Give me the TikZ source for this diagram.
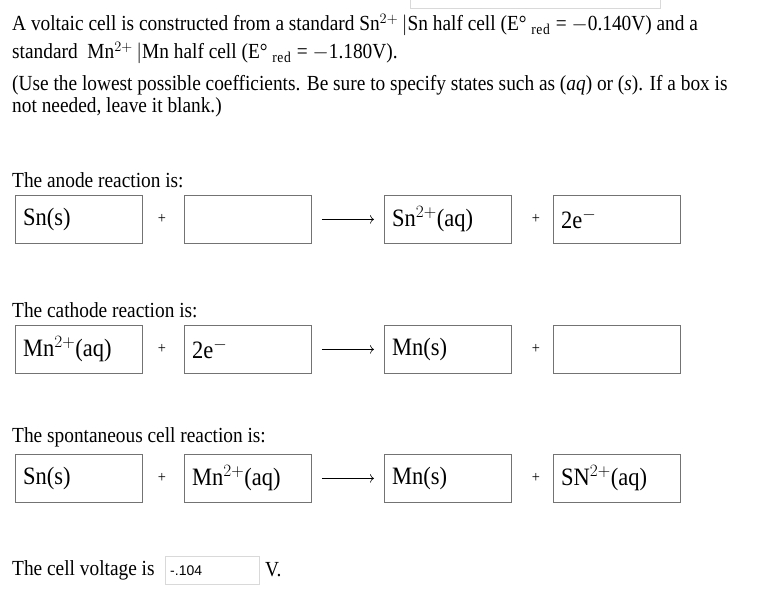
\documentclass[tikz,border=0pt]{standalone}
\usepackage{fontspec}
\setmainfont{Liberation Serif}[FakeStretch=0.9]
\newfontfamily\uisans{Liberation Sans}
\usetikzlibrary{arrows.meta}
\begin{document}
\begin{tikzpicture}[x=1pt,y=-1pt,
  txt/.style={anchor=west,inner sep=0pt,font=\fontsize{21.5}{24}\selectfont},
  ans/.style={draw=black!55,line width=0.8pt,minimum width=127pt,minimum height=48pt,anchor=north west,inner sep=0pt},
  anstxt/.style={anchor=west,inner sep=0pt,font=\fontsize{25}{28}\selectfont},
  plus/.style={font=\fontsize{16}{18}\selectfont,inner sep=0pt},
  rarr/.style={-{To[length=4pt]},line width=0.6pt}]
\useasboundingbox (0,0) rectangle (762,604);
\draw[black!15] (410,0) -- (410,8) -- (660,8) -- (660,0);
\node[txt] (l1) at (12,25) {A voltaic cell is constructed from a standard Sn$^{2+}$\,$|$Sn half cell (E° $_{\mathrm{red}}$ = $-$0.140V) and a};
\node[txt] (l2) at (12,53) {standard \ Mn$^{2+}$\,$|$Mn half cell (E° $_{\mathrm{red}}$ = $-$1.180V).};
\node[txt] (l3) at (12,85) {(Use the lowest possible coefficients. Be sure to specify states such as (\textit{aq}) or (\textit{s}). If a box is};
\node[txt] (l4) at (12,107) {not needed, leave it blank.)};
% row 1
\node[txt] (h1) at (12,180) {The anode reaction is:};
\node[ans] (a1) at (15,195) {}; \node[anstxt] at ([xshift=8pt]a1.west) {Sn(s)};
\node[plus] (p1) at (162,219) {+};
\node[ans] (a2) at (184,195) {};
\node[ans] (a3) at (384,195) {}; \node[anstxt] at ([xshift=8pt]a3.west) {Sn$^{2+}$(aq)};
\node[plus] (p2) at (536,219) {+};
\node[ans] (a4) at (553,195) {}; \node[anstxt] at ([xshift=8pt]a4.west) {2e$^{-}$};
\draw[rarr] ([xshift=10pt]a2.east) -- ([xshift=-10pt]a3.west);
% row 2
\node[txt] (h2) at (12,310) {The cathode reaction is:};
\node[ans] (b1) at (15,325) {}; \node[anstxt] at ([xshift=8pt]b1.west) {Mn$^{2+}$(aq)};
\node[plus] (q1) at (162,349) {+};
\node[ans] (b2) at (184,325) {}; \node[anstxt] at ([xshift=8pt]b2.west) {2e$^{-}$};
\node[ans] (b3) at (384,325) {}; \node[anstxt] at ([xshift=8pt]b3.west) {Mn(s)};
\node[plus] (q2) at (536,349) {+};
\node[ans] (b4) at (553,325) {};
\draw[rarr] ([xshift=10pt]b2.east) -- ([xshift=-10pt]b3.west);
% row 3
\node[txt] (h3) at (12,437) {The spontaneous cell reaction is:};
\node[ans] (c1) at (15,454) {}; \node[anstxt] at ([xshift=8pt]c1.west) {Sn(s)};
\node[plus] (r1) at (162,478) {+};
\node[ans] (c2) at (184,454) {}; \node[anstxt] at ([xshift=8pt]c2.west) {Mn$^{2+}$(aq)};
\node[ans] (c3) at (384,454) {}; \node[anstxt] at ([xshift=8pt]c3.west) {Mn(s)};
\node[plus] (r2) at (536,478) {+};
\node[ans] (c4) at (553,454) {}; \node[anstxt] at ([xshift=8pt]c4.west) {SN$^{2+}$(aq)};
\draw[rarr] ([xshift=10pt]c2.east) -- ([xshift=-10pt]c3.west);
% voltage
\node[txt] (v) at (12,570) {The cell voltage is};
\node[draw=black!15,minimum width=94pt,minimum height=28pt,anchor=north west,inner sep=0pt] (vb) at (165,556) {};
\node[anchor=west,inner sep=0pt,font=\uisans\fontsize{14}{16}\selectfont] at ([xshift=5pt]vb.west) {-.104};
\node[txt] (vu) at (265,570) {V.};
\end{tikzpicture}
\end{document}
